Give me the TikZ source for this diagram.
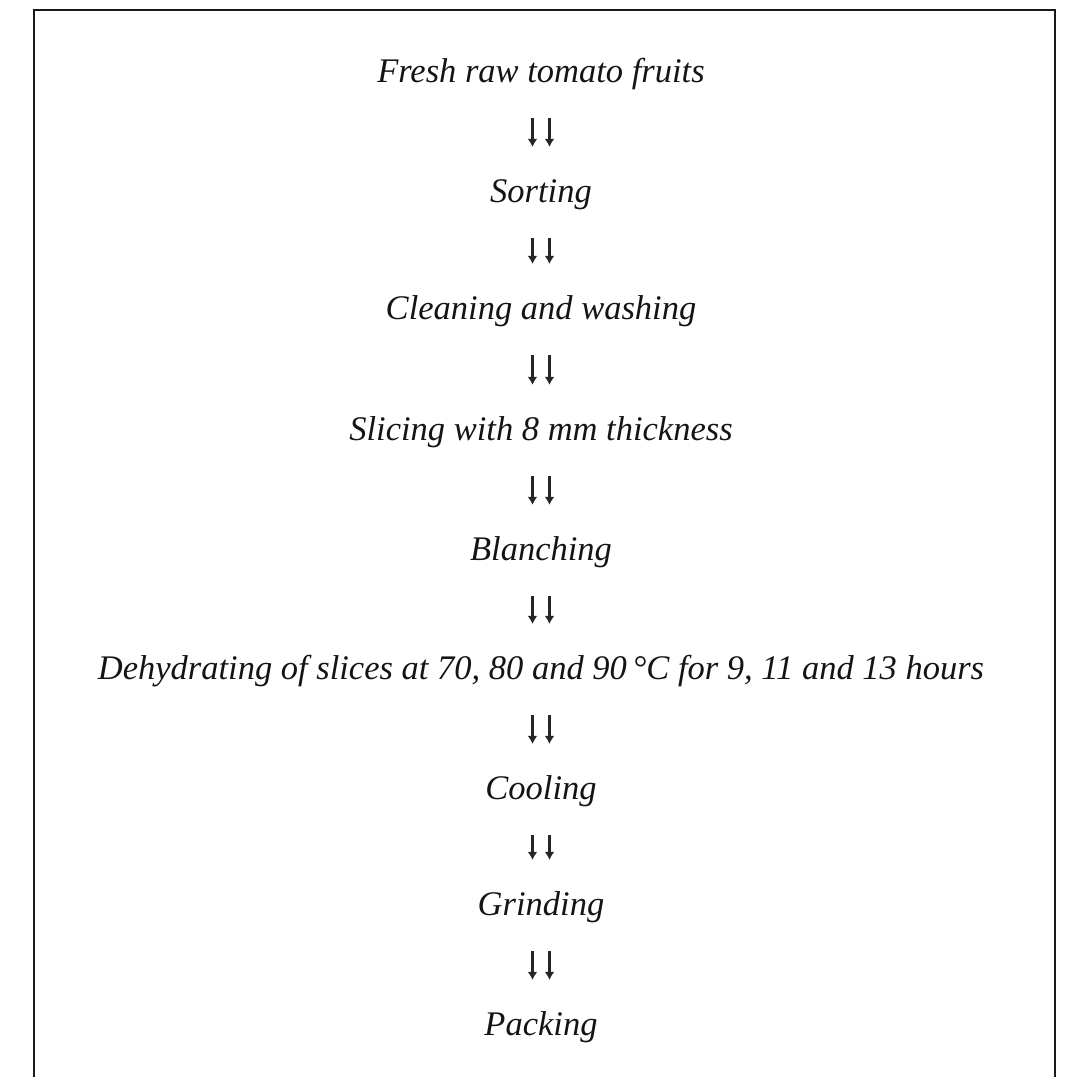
\documentclass[tikz,border=0pt]{standalone}
\usepackage{fontspec}
\setmainfont{Liberation Serif}
\usetikzlibrary{arrows.meta}
\begin{document}
\begin{tikzpicture}[x=1pt,y=-1pt,
  stepnode/.style={inner sep=0pt, anchor=base, text height=25pt, text depth=8pt,
    font=\fontsize{34.5}{40}\selectfont\itshape, text=black!92},
  twoarr/.style={line width=2.6pt, draw=black!85, -{Latex[length=8pt,width=10pt]},
    shorten <=28pt, shorten >=30pt}]
\useasboundingbox (0,0) rectangle (1068,1077);
\draw[line width=2.2pt, black!90] (34,1077) -- (34,10) -- (1055,10) -- (1055,1077);
\node[stepnode] (n1) at (541,82) {Fresh raw tomato fruits};
\node[stepnode] (n2) at (541,202) {Sorting};
\node[stepnode] (n3) at (541,319) {Cleaning and washing};
\node[stepnode] (n4) at (541,440) {Slicing with 8 mm thickness};
\node[stepnode] (n5) at (541,560) {Blanching};
\node[stepnode] (n6) at (541,679) {Dehydrating of slices at 70, 80 and 90\,°C for 9, 11 and 13 hours};
\node[stepnode] (n7) at (541,799) {Cooling};
\node[stepnode] (n8) at (541,915) {Grinding};
\node[stepnode] (n9) at (541,1035) {Packing};
\foreach \a/\b in {n1/n2,n2/n3,n3/n4,n4/n5,n5/n6,n6/n7,n7/n8,n8/n9}{
  \draw[twoarr] ([xshift=-8.5pt]\a.south) -- ([xshift=-8.5pt]\b.north);
  \draw[twoarr] ([xshift=8.5pt]\a.south) -- ([xshift=8.5pt]\b.north);
}
\end{tikzpicture}
\end{document}
